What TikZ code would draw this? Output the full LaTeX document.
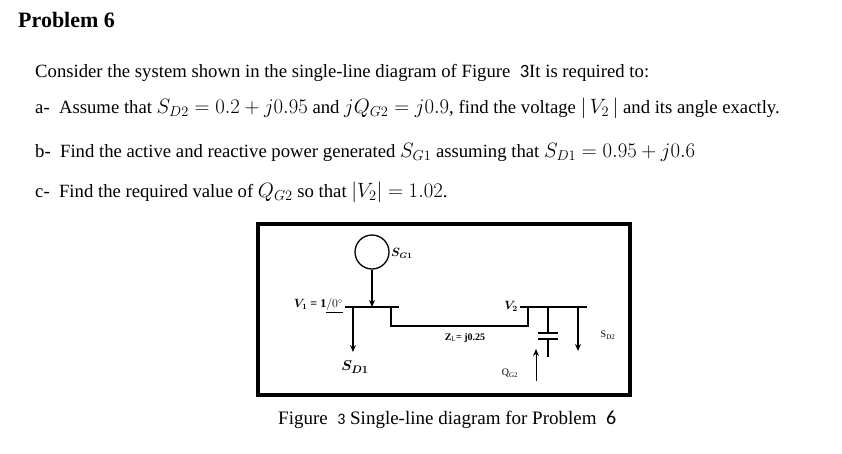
\documentclass[tikz,border=0pt]{standalone}
\usepackage{amsmath,amssymb}
\usepackage{fontspec}
\setmainfont{Liberation Serif}
\newfontfamily\calfont{Carlito}
\newcommand\mathbigx[1]{{\fontsize{21}{23}\selectfont$#1$}}
\usetikzlibrary{arrows.meta}
\begin{document}
\begin{tikzpicture}[x=1pt,y=-1pt,
  txt/.style={anchor=west,inner sep=0pt,font=\fontsize{18.7}{21}\selectfont},
  lab/.style={inner sep=0pt,font=\fontsize{12}{14}\selectfont\bfseries},
  small/.style={inner sep=0pt,font=\fontsize{10}{12}\selectfont},
  wire/.style={line width=1.8pt},
  arr/.style={line width=1.3pt,-{Stealth[length=7pt,width=6pt]}}]
\useasboundingbox (0,0) rectangle (842,453);
\node[txt,font=\fontsize{22}{24}\selectfont\bfseries] (title) at (18,20) {Problem 6};
\node[txt] (l1) at (35,73) {Consider the system shown in the single-line diagram of Figure\ \ {\calfont 3}It is required to:};
\node[txt] (l2) at (35,108) {a-\ \ Assume that \mathbigx{S_{D2}=0.2+j0.95}\ and \mathbigx{jQ_{G2}=j0.9}, find the voltage \mathbigx{|\,V_2\,|} and its angle exactly.};
\node[txt] (l3) at (35,152) {b-\ \ Find the active and reactive power generated \mathbigx{S_{G1}} assuming that \mathbigx{S_{D1}=0.95+j0.6}};
\node[txt] (l4) at (35,192) {c-\ \ Find the required value of \mathbigx{Q_{G2}} so that \mathbigx{|V_2|=1.02}.};
% box
\draw[line width=3.5pt] (258,224) rectangle (630,395);
% generator
\node[circle,draw,line width=1.3pt,minimum size=34pt,inner sep=0pt] (g1) at (372,252) {};
\node[lab,anchor=west] (sg1) at (391,253) {$\boldsymbol{S_{G1}}$};
\coordinate (b1l) at (345,307); \coordinate (b1r) at (399,307);
\draw[wire] (b1l) -- (b1r);
\coordinate (b1g) at (372,307);
\draw[arr] (g1.south) -- (b1g);
\coordinate (d1s) at (353,307); \coordinate (d1e) at (353,352);
\draw[arr] (d1s) -- (d1e);
\node[lab,font=\fontsize{15}{17}\selectfont\bfseries] (sd1) at (355,367) {$\boldsymbol{S_{D1}}$};
\node[lab,anchor=east] (v1) at (343,306) {$\boldsymbol{V_1}$ = 1$\underline{/0^\circ}$};
% line
\coordinate (la) at (391,307); \coordinate (lb) at (528,307);
\draw[line width=1.3pt] (la) -- (391,326) -- (528,326) -- (lb);
\node[small,font=\fontsize{10}{12}\selectfont\bfseries] (zl) at (465,338) {Z$_\mathrm{L}$= j0.25};
% bus 2
\coordinate (b2l) at (520,307); \coordinate (b2r) at (587,307);
\draw[wire] (b2l) -- (b2r);
\node[lab,anchor=east] (v2) at (518,306) {$\boldsymbol{V_2}$};
% capacitor
\draw[line width=1.3pt] (548,307) -- (548,333) (538,333) -- (558,333) (538,339) -- (558,339) (548,339) -- (548,357);
\coordinate (qa) at (536,381); \coordinate (qb) at (536,349);
\draw[arr,line width=1pt] (qa) -- (qb);
\node[small] (qg2) at (510,373) {Q$_{\mathrm{G2}}$};
\coordinate (d2s) at (578,307); \coordinate (d2e) at (578,351);
\draw[arr] (d2s) -- (d2e);
\node[small] (sd2) at (608,335) {S$_{\mathrm{D2}}$};
\node[txt,font=\fontsize{19}{21}\selectfont] (cap) at (278,420) {Figure\ \ {\calfont\fontsize{16}{18}\selectfont 3}\ Single-line diagram for Problem\ \ {\calfont\fontsize{20}{22}\selectfont 6}};
\end{tikzpicture}
\end{document}
